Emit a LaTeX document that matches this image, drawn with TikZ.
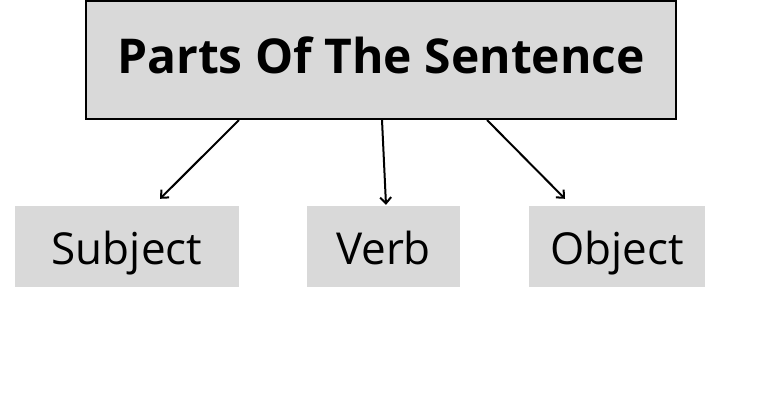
\documentclass[tikz,border=0pt]{standalone}
\usepackage{fontspec}
\setmainfont{Open Sans}
\usetikzlibrary{arrows.meta}
\definecolor{boxgray}{HTML}{D9D9D9}
\begin{document}
\begin{tikzpicture}[x=1pt,y=1pt,
        titlebox/.style={draw=black,line width=2pt,fill=boxgray,minimum width=590pt,minimum height=118pt,inner sep=0pt,text height=34pt,text depth=8pt,font=\fontsize{48}{52}\selectfont\bfseries},
        wordbox/.style={fill=boxgray,minimum height=81pt,inner sep=0pt,text height=38pt,text depth=3pt,font=\fontsize{44}{48}\selectfont},
        link/.style={line width=2pt,-{Straight Barb[length=6pt,width=11pt,line width=2pt]}}]
        \useasboundingbox (0,0) rectangle (768,-402);
        \node[titlebox] (title) at (381,-60) {Parts Of The Sentence};
        \node[wordbox,minimum width=224pt] (subject) at (127,-246.5) {Subject};
        \node[wordbox,minimum width=153pt] (verb) at (383.5,-246.5) {Verb};
        \node[wordbox,minimum width=176pt] (object) at (617,-246.5) {Object};
        \draw[link] ([xshift=-142pt]title.south) -- ([xshift=33pt,yshift=7pt]subject.north);
        \draw[link] ([xshift=1pt]title.south) -- ([xshift=2.5pt,yshift=1pt]verb.north);
        \draw[link] ([xshift=106pt]title.south) -- ([xshift=-52pt,yshift=7pt]object.north);
    \end{tikzpicture}
\end{document}
